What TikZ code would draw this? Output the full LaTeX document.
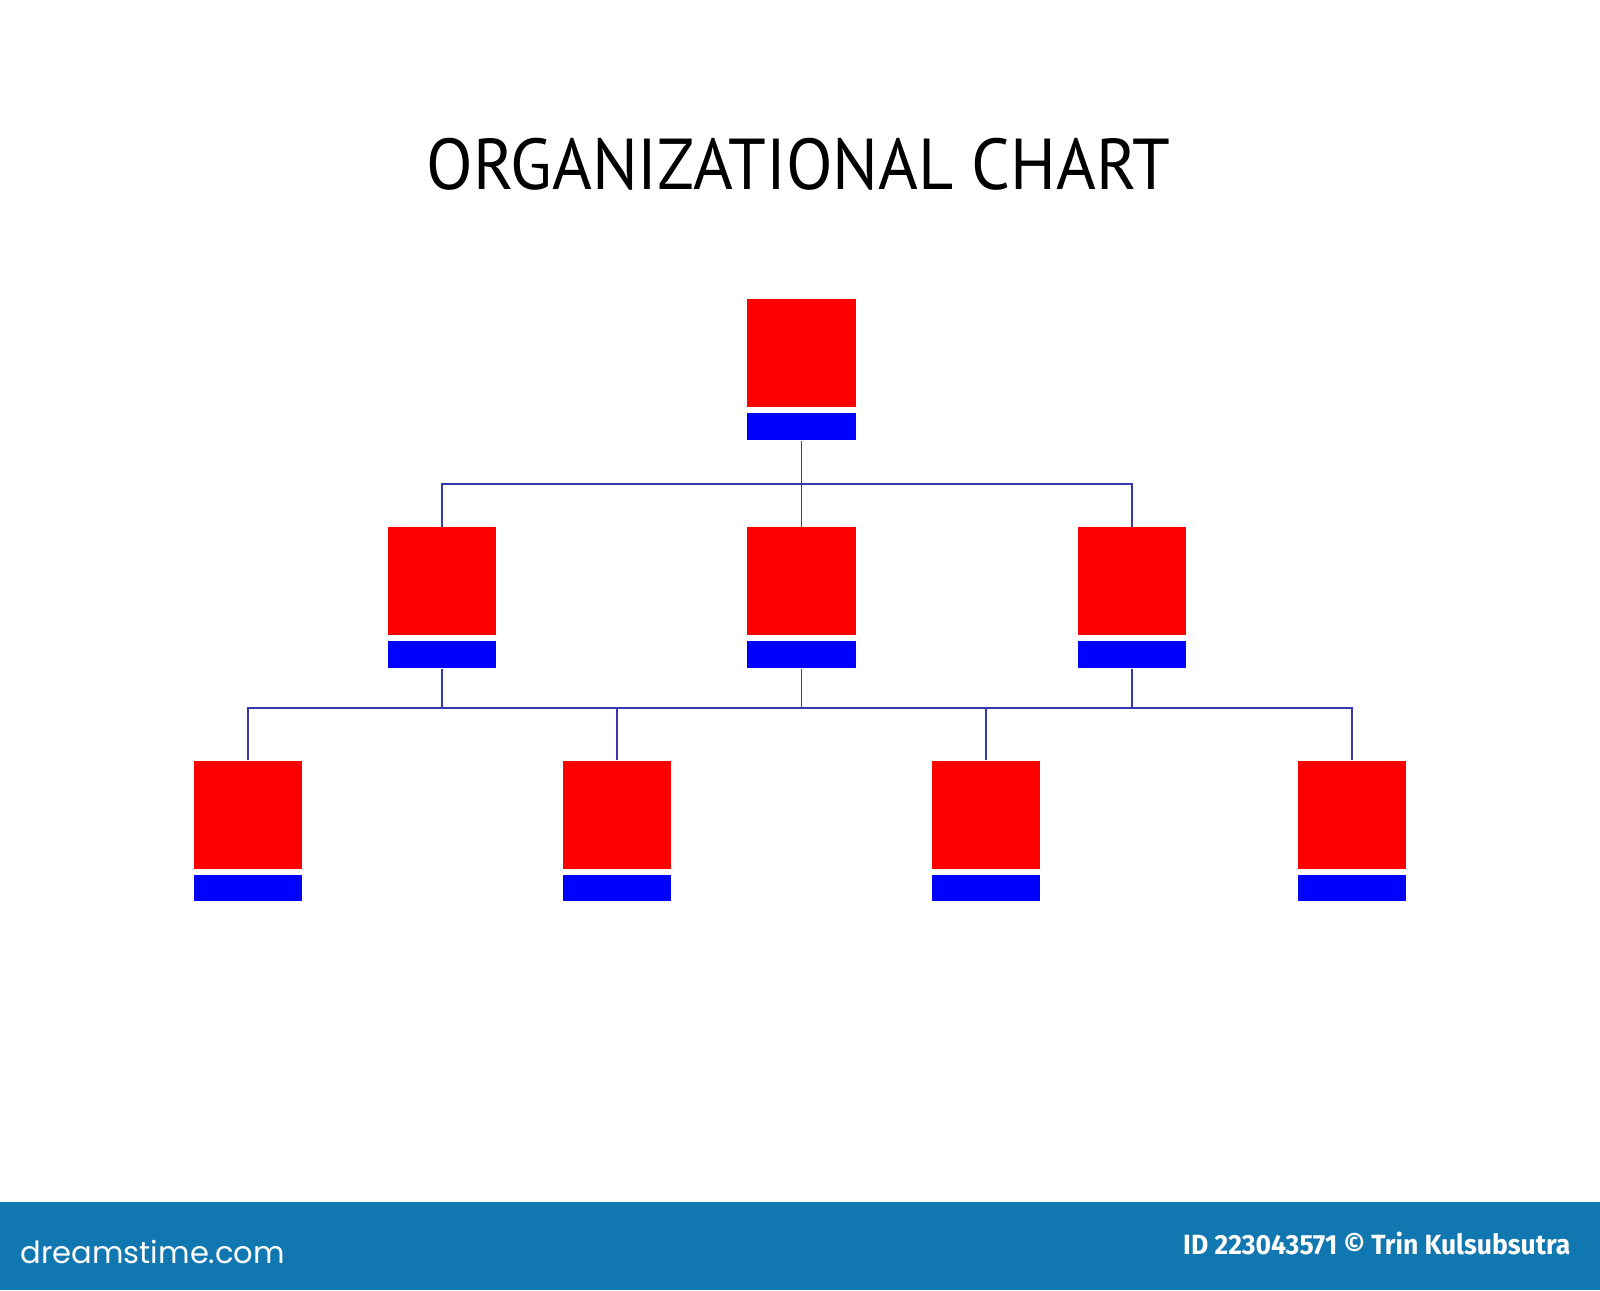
\documentclass[tikz,border=0pt]{standalone}
\usepackage{fontspec}
\setmainfont{PT Sans}
\newfontfamily\footfont{Poppins}
\newfontfamily\idfont{Fira Sans}
\usetikzlibrary{positioning}
\definecolor{BoxClr}{rgb}{1,0,0}
\definecolor{BarClr}{rgb}{0,0,1}
\definecolor{LinkClr}{rgb}{0.22,0.22,0.70}
\definecolor{FootClr}{rgb}{0.067,0.467,0.69}

\begin{document}
\begin{tikzpicture}[
  redbox/.style={fill=BoxClr,minimum width=1.084cm,minimum height=1.08cm,inner sep=0pt},
  bluebar/.style={fill=BarClr,minimum width=1.084cm,minimum height=0.265cm,inner sep=0pt,below=0.047cm of #1},
  link/.style={line width=0.5pt,color=LinkClr}]
\useasboundingbox (0,0) rectangle (16,12.9);
\fill[white] (0,0) rectangle (16,12.9);

\node[font=\fontsize{20.5}{24}\selectfont,anchor=base] (T) at (7.985,11.0) {\scalebox{0.945}[1]{ORGANIZATIONAL CHART}};

\node[redbox] (H) at (8.015,9.367) {};
\node[bluebar=H] (HB) {};

\node[redbox] (M1) at (4.417,7.087) {};
\node[bluebar=M1] (M1B) {};
\node[redbox] (M2) at (8.015,7.087) {};
\node[bluebar=M2] (M2B) {};
\node[redbox] (M3) at (11.32,7.087) {};
\node[bluebar=M3] (M3B) {};

\node[redbox] (S1) at (2.48,4.755) {};
\node[bluebar=S1] (S1B) {};
\node[redbox] (S2) at (6.17,4.755) {};
\node[bluebar=S2] (S2B) {};
\node[redbox] (S3) at (9.86,4.755) {};
\node[bluebar=S3] (S3B) {};
\node[redbox] (S4) at (13.52,4.755) {};
\node[bluebar=S4] (S4B) {};

\coordinate (L1) at (8.015,8.06);
\coordinate (L2) at (8.015,5.82);

\draw[link] (HB.south) -- (M2.north);
\draw[link] (M1.north) |- (L1) -| (M3.north);

\draw[link] (M1B.south) -- (M1B.south |- L2);
\draw[link] (M2B.south) -- (M2B.south |- L2);
\draw[link] (M3B.south) -- (M3B.south |- L2);
\draw[link] (S1.north) |- (L2) -| (S4.north);
\draw[link] (S2.north) -- (S2.north |- L2);
\draw[link] (S3.north) -- (S3.north |- L2);

\fill[FootClr] (0,0) rectangle (16,0.88);
\node[font=\footfont\fontsize{8.7}{10}\selectfont,text=white,anchor=base west,inner sep=0pt] (F) at (0.2,0.27) {dreamstime.com};
\node[font=\idfont\bfseries\fontsize{7.9}{9}\selectfont,text=white,anchor=base east,inner sep=0pt] (ID) at (15.71,0.36) {\scalebox{0.955}[1]{ID 223043571 © Trin Kulsubsutra}};

\end{tikzpicture}
\end{document}
